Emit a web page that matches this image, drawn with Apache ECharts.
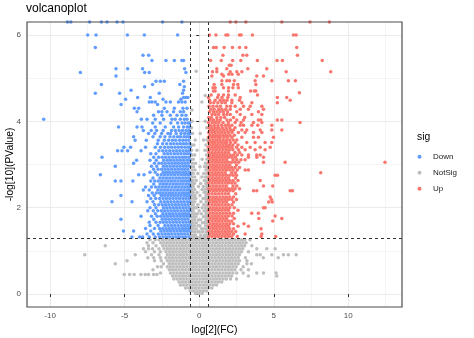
<!DOCTYPE html>
<html><head><meta charset="utf-8">
<script src="https://cdn.jsdelivr.net/npm/echarts@6/dist/echarts.min.js"></script>
<style>html,body{margin:0;padding:0;background:#fff}#c{width:474px;height:338px}</style>
</head><body><div id="c"></div>
<script>
// ---- data: each row = [ -log10(p), log2FC values ... ] ----
const seriesNames = ['Down', 'NotSig', 'Up'];
const xTicks = [-10, -5, 0, 5, 10];
const xMinorTicks = [-7.5, -2.5, 2.5, 7.5, 12.5];
const yTicks = [0, 2, 4, 6];
const yMinorTicks = [1, 3, 5];
const fcCut = 0.585;
const pCut = 1.301;

const downRows = [
 [6.30,-8.84,-8.61,-7.35,-6.56,-6.18,-5.51,-5.11,-2.46,-1.16],
 [6.00,-7.48,-6.92,-4.82,-3.68,-1.45],
 [5.71,-6.97],
 [5.53,-3.77,-3.39],
 [5.41,-3.17,-2.23,-1.67,-1.16,-1.05],
 [5.22,-5.58,-4.80,-3.80,-0.98],
 [5.13,-7.97,-3.66,-3.35,-0.89],
 [5.05,-5.58],
 [4.93,-2.90,-2.61,-2.34,-1.05],
 [4.85,-6.56,-3.13,-1.30],
 [4.80,-3.66,-1.00],
 [4.72,-4.57,-1.05],
 [4.65,-6.97,-5.34,-2.68,-1.12],
 [4.55,-4.13,-3.28,-1.05,-0.89,-0.76],
 [4.51,-4.94,-2.43,-1.23],
 [4.45,-3.35,-3.17,-2.95,-2.23,-1.94,-1.39,-1.16,-0.94],
 [4.39,-5.24,-2.79],
 [4.30,-4.35,-4.06,-2.34,-1.67,-1.09,-0.82],
 [4.22,-4.17,-2.73,-2.50,-2.16,-1.72,-1.27,-1.05],
 [4.14,-3.06,-2.50,-1.94,-1.49,-1.16,-0.89],
 [4.05,-10.43,-3.88,-3.50,-2.95,-2.39,-1.83,-1.61,-1.27,-1.00,-0.82],
 [3.96,-3.12,-2.62,-1.90,-1.45,-1.15,-0.95,-0.74,-0.64],
 [3.87,-5.41,-4.17,-3.84,-2.95,-2.28,-1.72,-1.38,-1.05,-0.80,-0.66],
 [3.79,-3.75,-3.22,-2.86,-2.42,-1.86,-1.60,-1.35,-1.12,-0.88,-0.68],
 [3.72,-3.40,-2.98,-2.52,-2.10,-1.92,-1.55,-1.22,-0.98,-0.76,-0.63],
 [3.64,-4.40,-3.10,-2.62,-2.30,-1.96,-1.70,-1.45,-1.25,-1.02,-0.84,-0.66],
 [3.56,-4.30,-3.55,-2.75,-2.34,-2.05,-1.80,-1.58,-1.32,-1.10,-0.90,-0.70],
 [3.48,-2.80,-2.45,-2.18,-1.92,-1.70,-1.48,-1.26,-1.05,-0.86,-0.64],
 [3.40,-5.05,-4.60,-3.60,-2.95,-2.60,-2.32,-2.08,-1.85,-1.62,-1.40,-1.18,-0.96,-0.76,-0.62],
 [3.32,-5.47,-5.18,-4.80,-3.90,-2.70,-2.45,-2.22,-1.98,-1.75,-1.52,-1.30,-1.08,-0.86,-0.66],
 [3.25,-3.25,-2.90,-2.35,-2.12,-1.90,-1.66,-1.44,-1.22,-1.00,-0.80,-0.62],
 [3.17,-6.52,-3.05,-2.72,-2.48,-2.25,-2.02,-1.78,-1.56,-1.34,-1.12,-0.92,-0.70],
 [3.10,-4.20,-3.30,-2.88,-2.38,-2.14,-1.92,-1.70,-1.48,-1.26,-1.04,-0.82,-0.63],
 [3.03,-4.40,-3.00,-2.70,-2.50,-2.28,-2.04,-1.82,-1.60,-1.38,-1.16,-0.95,-0.74],
 [2.96,-5.63,-3.20,-2.85,-2.40,-2.18,-1.95,-1.72,-1.50,-1.28,-1.06,-0.86,-0.65],
 [2.89,-3.06,-2.76,-2.52,-2.30,-2.08,-1.85,-1.62,-1.40,-1.18,-0.97,-0.76],
 [2.82,-3.30,-2.95,-2.42,-2.20,-1.98,-1.75,-1.52,-1.30,-1.08,-0.88,-0.66],
 [2.76,-6.63,-4.06,-3.70,-2.80,-2.55,-2.32,-2.10,-1.88,-1.65,-1.42,-1.20,-0.99,-0.78,-0.62],
 [2.69,-3.10,-2.64,-2.42,-2.20,-1.98,-1.76,-1.54,-1.32,-1.10,-0.90,-0.70],
 [2.62,-5.63,-5.25,-4.45,-3.25,-2.98,-2.75,-2.52,-2.30,-2.08,-1.86,-1.64,-1.42,-1.20,-1.00,-0.80,-0.63],
 [2.55,-3.05,-2.62,-2.40,-2.18,-1.96,-1.74,-1.52,-1.30,-1.09,-0.88,-0.68],
 [2.48,-3.60,-3.20,-2.92,-2.70,-2.48,-2.26,-2.04,-1.82,-1.60,-1.38,-1.16,-0.96,-0.76,-0.62],
 [2.41,-3.75,-3.35,-2.78,-2.56,-2.34,-2.12,-1.90,-1.68,-1.46,-1.24,-1.03,-0.83,-0.66],
 [2.34,-3.15,-2.88,-2.66,-2.44,-2.22,-2.00,-1.78,-1.56,-1.34,-1.12,-0.92,-0.72],
 [2.28,-5.25,-3.40,-3.02,-2.54,-2.32,-2.10,-1.88,-1.66,-1.44,-1.22,-1.00,-0.80,-0.63],
 [2.21,-3.25,-2.92,-2.66,-2.42,-2.20,-1.98,-1.76,-1.54,-1.32,-1.10,-0.90,-0.70],
 [2.14,-5.85,-4.51,-3.50,-3.10,-2.58,-2.34,-2.12,-1.90,-1.68,-1.46,-1.24,-1.03,-0.82,-0.64],
 [2.07,-3.00,-2.72,-2.48,-2.26,-2.04,-1.82,-1.60,-1.38,-1.16,-0.96,-0.75],
 [2.00,-3.30,-2.90,-2.40,-2.18,-1.96,-1.74,-1.52,-1.30,-1.08,-0.88,-0.67],
 [1.93,-3.45,-3.08,-2.78,-2.54,-2.32,-2.10,-1.88,-1.66,-1.44,-1.22,-1.01,-0.80,-0.62],
 [1.86,-2.94,-2.44,-2.22,-2.00,-1.78,-1.56,-1.34,-1.12,-0.92,-0.71],
 [1.80,-3.90,-3.20,-2.82,-2.58,-2.36,-2.14,-1.92,-1.70,-1.48,-1.26,-1.04,-0.84,-0.64],
 [1.73,-5.25,-3.05,-2.48,-2.26,-2.04,-1.82,-1.60,-1.38,-1.16,-0.96,-0.75],
 [1.66,-3.35,-2.90,-2.62,-2.40,-2.18,-1.96,-1.74,-1.52,-1.30,-1.08,-0.88,-0.67],
 [1.59,-3.30,-2.76,-2.30,-2.08,-1.86,-1.64,-1.42,-1.20,-0.99,-0.79,-0.62],
 [1.52,-3.60,-3.00,-2.66,-2.44,-2.22,-2.00,-1.78,-1.56,-1.34,-1.12,-0.92,-0.71],
 [1.46,-5.08,-4.40,-3.25,-2.58,-2.36,-2.14,-1.92,-1.70,-1.48,-1.26,-1.04,-0.84,-0.64],
 [1.39,-3.50,-3.08,-2.74,-2.50,-2.28,-2.06,-1.84,-1.62,-1.40,-1.18,-0.97,-0.76],
 [1.32,-4.51,-4.00,-3.80,-3.35,-2.95,-2.66,-2.42,-2.20,-1.98,-1.76,-1.54,-1.32,-1.10,-0.90,-0.68]
];

const upRows = [
 [6.30,2.08,2.46,3.13,5.54,7.43,8.73],
 [6.00,0.69,1.12,1.79,1.92,2.70,2.81,3.57,6.32,6.50],
 [5.71,0.96,1.14,1.67,2.23,2.70,3.13,6.54],
 [5.53,1.59,2.93,3.19,6.59],
 [5.41,0.76,1.48,2.24,2.79,3.90,5.22,5.58,8.25],
 [5.30,2.02,2.14],
 [5.22,1.18,1.85,3.26,4.53],
 [5.15,0.89,1.18,2.08,2.52,2.86,5.83,8.82],
 [5.09,1.52,1.98,2.20,2.62],
 [5.05,0.85,1.63,3.86,4.31],
 [4.94,1.52,1.85,2.03,2.35,3.75,4.87,5.98,6.45],
 [4.85,1.00,1.52,2.30,2.59,3.80],
 [4.78,0.92,1.07,1.63,1.97,2.26,2.63],
 [4.70,0.96,1.07,1.96,3.45,3.70,3.80],
 [4.66,6.72],
 [4.61,0.80,1.29,1.63,1.96,2.41,3.91],
 [4.55,0.62,1.23,1.52,1.92,2.75,5.24,5.87],
 [4.49,0.70,1.07,1.40,1.63,1.86,2.19,2.70,6.10],
 [4.43,0.74,0.98,1.25,1.52,1.75,2.19,2.86,3.53,5.24],
 [4.35,0.66,0.92,1.18,1.42,1.85,2.10,2.41,2.97,3.42,4.20],
 [4.28,0.78,1.00,1.30,1.52,1.78,2.08,2.75,3.30,4.31],
 [4.22,0.69,0.95,1.18,1.40,1.63,1.90,2.52,3.97],
 [4.16,0.86,1.07,1.30,1.63,1.86,2.08,2.75,3.53,4.20],
 [4.09,0.64,0.82,1.18,1.45,1.70,2.30,3.05],
 [4.03,0.74,0.96,1.20,1.41,1.86,2.10,2.52,2.97,3.97,4.13,5.24,5.54],
 [3.97,0.62,0.88,1.10,1.32,1.60,1.95,2.41,2.81,3.64,4.20,6.76],
 [3.91,0.74,1.00,1.25,1.50,1.75,1.96,2.19,2.75,2.97,3.53,3.93,4.87],
 [3.85,0.65,0.86,1.08,1.30,1.55,1.80,2.05,2.40],
 [3.80,0.74,0.96,1.18,1.40,1.63,1.86,2.10,2.30,2.86,3.19,4.09,4.87,5.54],
 [3.74,0.64,0.85,1.06,1.28,1.50,1.72,1.95,2.20,2.63,3.08,3.64,4.20],
 [3.68,0.72,0.94,1.16,1.38,1.60,1.82,2.05,2.35],
 [3.63,0.62,0.85,1.06,1.28,1.41,1.66,1.90,2.19,2.86,3.64,3.97,4.98],
 [3.57,0.72,0.94,1.16,1.38,1.60,1.82,2.04,2.28,2.52],
 [3.51,0.64,0.85,1.03,1.26,1.48,1.70,1.85,2.10,2.41,3.19,3.75,4.42,4.87],
 [3.45,0.72,0.94,1.16,1.38,1.60,1.82,2.04,2.26,2.60],
 [3.40,0.62,0.85,1.06,1.28,1.52,1.74,1.96,2.19,2.50,2.86,3.42,4.09,4.76],
 [3.34,0.72,0.94,1.16,1.38,1.60,1.82,2.04,2.26,2.63,3.08,3.75,4.42],
 [3.28,0.64,0.86,1.08,1.30,1.52,1.74,1.96,2.40,2.70],
 [3.22,0.73,0.96,1.18,1.40,1.63,1.85,2.08,2.30,2.55,2.86,3.30,3.86,4.09],
 [3.17,0.64,0.86,1.08,1.30,1.52,1.74,1.96,2.18,2.42,3.30,3.86,4.31],
 [3.11,0.73,0.95,1.17,1.39,1.61,1.83,2.27,2.52,2.80,3.08],
 [3.05,0.64,0.86,1.08,1.30,1.52,1.74,1.96,2.18,2.40,2.65,4.31,5.76,12.46],
 [2.99,0.73,0.95,1.17,1.39,1.61,1.83,2.05,2.50],
 [2.93,0.64,0.86,1.08,1.30,1.52,1.74,1.96,2.18,2.40,2.70],
 [2.87,0.73,0.95,1.17,1.39,1.61,1.83,2.05,2.27,2.55,3.08,3.30],
 [2.81,0.64,0.86,1.08,1.30,1.52,1.74,2.18,2.42,8.15],
 [2.75,0.73,0.95,1.17,1.39,1.61,1.83,2.05,2.27,2.50,5.09,5.25],
 [2.69,0.64,0.86,1.08,1.30,1.52,1.74,1.96,2.44],
 [2.63,0.73,0.95,1.17,1.39,1.61,1.83,2.05,2.27,2.60,4.09],
 [2.57,0.64,0.86,1.08,1.30,1.52,1.74,1.96,2.18,2.40],
 [2.50,0.73,0.95,1.17,1.39,1.61,1.83,2.27,2.52,4.31,4.93],
 [2.44,0.64,0.86,1.08,1.30,1.52,1.74,1.96,2.18,2.40,2.70],
 [2.39,0.73,0.95,1.17,1.39,1.61,1.83,2.05,2.27,3.64,3.86,6.10,6.25],
 [2.32,0.64,0.86,1.08,1.30,1.52,1.74,1.96,2.45],
 [2.25,0.73,0.95,1.17,1.39,1.61,1.83,2.05,2.30,4.76],
 [2.19,0.64,0.86,1.08,1.30,1.52,1.74,1.96,2.18,2.50,4.84],
 [2.13,0.73,0.95,1.17,1.39,1.61,1.83,2.30,4.66,4.90],
 [2.07,0.64,0.86,1.08,1.30,1.52,1.74,1.96,2.20],
 [2.00,0.73,0.95,1.17,1.39,1.61,1.83,2.05,2.35,4.31,4.42],
 [1.94,0.64,0.86,1.08,1.30,1.52,1.74,1.96,2.60],
 [1.87,0.73,0.95,1.17,1.39,1.61,1.83,2.05,2.30,3.52,3.97],
 [1.81,0.64,0.86,1.08,1.30,1.52,1.74,1.96,2.20,5.09],
 [1.75,0.73,0.95,1.17,1.39,1.61,1.83,2.35,4.00,5.54],
 [1.69,0.64,0.86,1.08,1.30,1.52,1.74,1.96,2.18,4.93],
 [1.63,0.73,0.95,1.17,1.39,1.61,1.83,2.05,2.30,3.00],
 [1.57,0.64,0.86,1.08,1.30,1.52,1.74,1.96,2.60,3.30],
 [1.51,0.73,0.95,1.17,1.39,1.61,1.83,2.05,2.30,4.15],
 [1.45,0.64,0.86,1.08,1.30,1.52,1.74,1.96,2.18,2.45],
 [1.39,0.73,0.95,1.17,1.39,1.61,1.83,2.05,2.30,3.08,4.20],
 [1.33,0.64,0.86,1.08,1.30,1.52,1.74,1.96,2.18,2.55,4.15,5.13]
];

const notSigRows = [
 [5.16,-0.20],
 [4.60,0.40],
 [4.45,0.18],
 [4.26,-0.49],
 [4.00,-0.49,0.40],
 [3.85,-0.52,0.50],
 [3.72,-0.45,0.07],
 [3.57,-0.27,0.29,0.52],
 [3.45,-0.50,-0.36,0.45],
 [3.33,-0.52,-0.15,0.38,0.55],
 [3.22,-0.48,-0.30,0.48],
 [3.12,-0.55,-0.40,0.20,0.52],
 [3.03,-0.46,-0.25,0.42,0.55],
 [2.95,-0.55,-0.38,0.05,0.35,0.50],
 [2.87,-0.47,-0.28,0.45,0.56],
 [2.79,-0.55,-0.40,-0.10,0.30,0.50],
 [2.71,-0.48,-0.30,0.18,0.42,0.56],
 [2.63,-0.55,-0.42,-0.20,0.34,0.50],
 [2.56,-0.47,-0.32,0.10,0.45,0.56],
 [2.49,-0.55,-0.40,-0.05,0.28,0.50],
 [2.42,-0.48,-0.30,0.20,0.42,0.56],
 [2.35,-0.55,-0.40,-0.15,0.33,0.50],
 [2.28,-0.46,-0.28,0.05,0.45,0.56],
 [2.21,-0.55,-0.38,-0.22,0.25,0.38,0.52],
 [2.14,-0.47,-0.30,0.12,0.45,0.56],
 [2.07,-0.55,-0.40,-0.10,0.30,0.50],
 [2.00,-0.48,-0.32,-0.18,0.20,0.42,0.56],
 [1.93,-0.55,-0.40,0.00,0.33,0.50],
 [1.86,-0.47,-0.30,-0.12,0.15,0.45,0.56],
 [1.79,-0.55,-0.38,-0.22,0.28,0.40,0.52],
 [1.72,-0.47,-0.30,-0.05,0.10,0.45,0.56],
 [1.65,-0.55,-0.40,-0.18,0.22,0.35,0.50],
 [1.58,-0.48,-0.32,-0.08,0.05,0.42,0.56],
 [1.51,-0.55,-0.40,-0.20,0.15,0.30,0.50],
 [1.44,-0.47,-0.30,-0.10,0.00,0.22,0.45,0.56],
 [1.37,-0.55,-0.38,-0.25,0.10,0.35,0.50],
 [1.31,-0.48,-0.32,-0.15,0.05,0.25,0.42,0.56],
 [1.26,-3.30,-2.95,-2.70,-2.45,-2.23,-2.01,-1.79,-1.57,-1.35,-1.13,-0.91,-0.69,-0.47,-0.25,-0.03,0.19,0.41,0.63,0.85,1.07,1.29,1.51,1.73,1.95,2.17,2.39,2.61,2.83,3.05,3.40],
 [1.19,-3.50,-3.10,-2.58,-2.36,-2.14,-1.92,-1.70,-1.48,-1.26,-1.04,-0.82,-0.60,-0.38,-0.16,0.06,0.28,0.50,0.72,0.94,1.16,1.38,1.60,1.82,2.04,2.26,2.48,2.70,2.92,3.14],
 [1.12,-6.30,-3.40,-2.90,-2.45,-2.23,-2.01,-1.79,-1.57,-1.35,-1.13,-0.91,-0.69,-0.47,-0.25,-0.03,0.19,0.41,0.63,0.85,1.07,1.29,1.51,1.73,1.95,2.17,2.39,2.61,2.83,3.05,3.53],
 [1.05,-3.74,-3.40,-3.13,-2.70,-2.36,-2.14,-1.92,-1.70,-1.48,-1.26,-1.04,-0.82,-0.60,-0.38,-0.16,0.06,0.28,0.50,0.72,0.94,1.16,1.38,1.60,1.82,2.04,2.26,2.48,2.70,2.92,3.86,4.53,5.09],
 [0.98,-3.60,-3.00,-2.60,-2.23,-2.01,-1.79,-1.57,-1.35,-1.13,-0.91,-0.69,-0.47,-0.25,-0.03,0.19,0.41,0.63,0.85,1.07,1.29,1.51,1.73,1.95,2.17,2.39,2.61,2.83,3.30],
 [0.91,-7.68,-4.29,-3.20,-2.70,-2.14,-1.92,-1.70,-1.48,-1.26,-1.04,-0.82,-0.60,-0.38,-0.16,0.06,0.28,0.50,0.72,0.94,1.16,1.38,1.60,1.82,2.04,2.26,2.48,2.70,3.86,4.09,4.87,5.65,5.98,6.50],
 [0.84,-3.45,-3.05,-2.60,-2.23,-2.01,-1.79,-1.57,-1.35,-1.13,-0.91,-0.69,-0.47,-0.25,-0.03,0.19,0.41,0.63,0.85,1.07,1.29,1.51,1.73,1.95,2.17,2.39,2.61,3.10,4.30,5.30],
 [0.77,-4.84,-3.00,-2.55,-2.14,-1.92,-1.70,-1.48,-1.26,-1.04,-0.82,-0.60,-0.38,-0.16,0.06,0.28,0.50,0.72,0.94,1.16,1.38,1.60,1.82,2.04,2.26,2.48,2.70,3.20],
 [0.70,-5.63,-2.40,-2.01,-1.79,-1.57,-1.35,-1.13,-0.91,-0.69,-0.47,-0.25,-0.03,0.19,0.41,0.63,0.85,1.07,1.29,1.51,1.73,1.95,2.17,2.39,2.61,3.20,3.50],
 [0.63,-2.80,-2.55,-2.14,-1.92,-1.70,-1.48,-1.26,-1.04,-0.82,-0.60,-0.38,-0.16,0.06,0.28,0.50,0.72,0.94,1.16,1.38,1.60,1.82,2.04,2.26,2.48,2.95],
 [0.56,-3.10,-2.01,-1.79,-1.57,-1.35,-1.13,-0.91,-0.69,-0.47,-0.25,-0.03,0.19,0.41,0.63,0.85,1.07,1.29,1.51,1.73,1.95,2.17,2.39,2.80,3.30],
 [0.49,-2.60,-1.92,-1.70,-1.48,-1.26,-1.04,-0.82,-0.60,-0.38,-0.16,0.06,0.28,0.50,0.72,0.94,1.16,1.38,1.60,1.82,2.04,2.26,2.52,2.95,3.86,4.31,5.16],
 [0.45,-5.03,-4.67,-4.36,-3.91,-3.62,-3.40,-3.06,-2.84],
 [0.42,-1.79,-1.57,-1.35,-1.13,-0.91,-0.69,-0.47,-0.25,-0.03,0.19,0.41,0.63,0.85,1.07,1.29,1.51,1.73,1.95,2.17,3.30,5.20],
 [0.35,-1.70,-1.48,-1.26,-1.04,-0.82,-0.60,-0.38,-0.16,0.06,0.28,0.50,0.72,0.94,1.16,1.38,1.60,1.82,2.10,2.50],
 [0.28,-1.35,-1.13,-0.91,-0.69,-0.47,-0.25,-0.03,0.19,0.41,0.63,0.85,1.07,1.29,1.51],
 [0.21,-1.26,-1.04,-0.82,-0.60,-0.38,-0.16,0.06,0.28,0.50,0.72,0.94,1.16],
 [0.14,-0.91,-0.69,-0.47,-0.25,-0.03,0.19,0.41,0.63,0.85],
 [0.07,-0.60,-0.38,-0.16,0.06,0.28,0.50],
 [0.01,-0.25,-0.03,0.19]
];

// ---- helpers ----
function toPoints(rows) {
  const out = [];
  rows.forEach(r => { for (let i = 1; i < r.length; i++) out.push([r[i], r[0]]); });
  return out;
}
const colors = { Down: '#619CFF', NotSig: '#BEBEBE', Up: '#F8766D' };
const FONT = 'Liberation Sans, Arial, Helvetica, sans-serif';
const G = { left: 27, top: 22, width: 375, height: 285 };

const gridLines = [];
xTicks.forEach(v => gridLines.push({ xAxis: v, lineStyle: { width: 1 } }));
xMinorTicks.forEach(v => gridLines.push({ xAxis: v, lineStyle: { width: 0.5 } }));
yTicks.forEach(v => gridLines.push({ yAxis: v, lineStyle: { width: 1 } }));
yMinorTicks.forEach(v => gridLines.push({ yAxis: v, lineStyle: { width: 0.5 } }));

const chart = echarts.init(document.getElementById('c'), null, { renderer: 'canvas' });
chart.setOption({
  animation: false,
  backgroundColor: '#fff',
  textStyle: { fontFamily: FONT },
  title: {
    text: 'volcanoplot', left: 26, top: 3, padding: 0,
    textStyle: { fontSize: 12, fontWeight: 'normal', color: '#000', fontFamily: FONT }
  },
  grid: { left: G.left, top: G.top, width: G.width, height: G.height, containLabel: false, outerBoundsMode: 'none' },
  xAxis: {
    type: 'value', min: -11.55, max: 13.6,
    name: 'log[2](FC)', nameLocation: 'middle', nameGap: 15,
    nameTextStyle: { fontSize: 10.3, color: '#000', fontFamily: FONT },
    axisLine: { show: false },
    axisTick: { show: true, customValues: xTicks, length: 3, lineStyle: { color: '#333', width: 1 } },
    axisLabel: { customValues: xTicks, fontSize: 8, color: '#4d4d4d', margin: 5, fontFamily: FONT },
    splitLine: { show: false }
  },
  yAxis: {
    type: 'value', min: -0.3, max: 6.3,
    name: '-log[10](PValue)', nameLocation: 'middle', nameGap: 12, nameMoveOverlap: false,
    nameTextStyle: { fontSize: 10.3, color: '#000', fontFamily: FONT },
    axisLine: { show: false },
    axisTick: { show: true, customValues: yTicks, length: 3, lineStyle: { color: '#333', width: 1 } },
    axisLabel: { customValues: yTicks, fontSize: 8, color: '#4d4d4d', margin: 6, fontFamily: FONT },
    splitLine: { show: false }
  },
  legend: {
    orient: 'vertical', left: 417.5, top: 148.7, padding: 0, itemGap: 0,
    itemWidth: 17, itemHeight: 4, icon: 'circle',
    data: seriesNames,
    textStyle: { fontSize: 8, color: '#1a1a1a', lineHeight: 16, fontFamily: FONT }
  },
  graphic: [
    { type: 'text', left: 417, top: 132, silent: true,
      style: { text: 'sig', fontSize: 10.3, fill: '#000', fontFamily: FONT } },
    { type: 'rect', silent: true, z: 100,
      shape: { x: G.left, y: G.top, width: G.width, height: G.height },
      style: { fill: 'none', stroke: '#4d4d4d', lineWidth: 1.2 } }
  ],
  series: [
    { name: 'gridlines', type: 'scatter', data: [], z: 0, silent: true,
      markLine: { silent: true, symbol: ['none', 'none'], z: 0, label: { show: false },
        lineStyle: { color: '#ebebeb', type: 'solid' }, data: gridLines } },
    { name: 'NotSig', type: 'scatter', data: toPoints(notSigRows), symbolSize: 3.5, z: 2,
      itemStyle: { color: colors.NotSig, opacity: 1 }, silent: true },
    { name: 'Down', type: 'scatter', data: toPoints(downRows), symbolSize: 3.5, z: 2,
      itemStyle: { color: colors.Down, opacity: 1 }, silent: true },
    { name: 'Up', type: 'scatter', data: toPoints(upRows), symbolSize: 3.5, z: 2,
      itemStyle: { color: colors.Up, opacity: 1 }, silent: true },
    { name: 'cutoffs', type: 'scatter', data: [], z: 10, silent: true,
      markLine: { silent: true, symbol: ['none', 'none'], z: 10, label: { show: false },
        lineStyle: { color: '#1a1a1a', type: [3, 3], width: 0.9 },
        data: [{ xAxis: -fcCut }, { xAxis: fcCut }, { yAxis: pCut }] } }
  ]
});
</script>
</body></html>
